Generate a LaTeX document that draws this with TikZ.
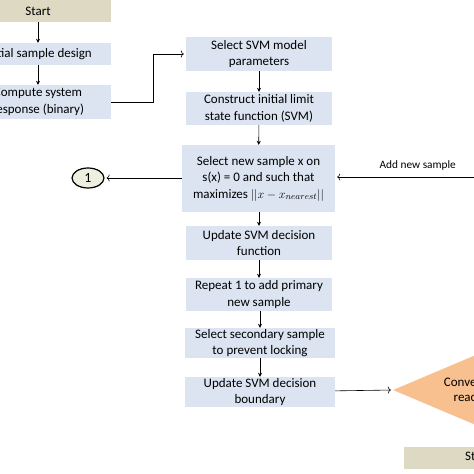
\documentclass[tikz,border=0pt]{standalone}
\usepackage{fontspec}
\setmainfont{Carlito}
\usetikzlibrary{arrows.meta, shapes.geometric}
\definecolor{boxblue}{RGB}{219,228,240}
\definecolor{boxtan}{RGB}{221,217,195}
\definecolor{diaorange}{RGB}{249,192,143}
\definecolor{circfill}{RGB}{238,239,222}

\tikzset{
    stepbox/.style={fill=boxblue, minimum width=146, minimum height=34, inner sep=1, align=center, font=\fontsize{13}{16.5}\selectfont},
    endbox/.style={fill=boxtan, minimum width=146, minimum height=22, inner sep=1, font=\fontsize{13}{16.5}\selectfont},
    decide/.style={diamond, fill=diaorange, aspect=2.36, inner sep=0, minimum width=170, minimum height=72, align=center, font=\fontsize{13}{15}\selectfont},
    connect/.style={ellipse, draw, line width=1.2pt, fill=circfill, minimum width=32, minimum height=20, inner sep=0, font=\fontsize{14}{15}\selectfont},
    down/.style={-{Stealth[length=4pt,width=4pt]}, line width=0.6pt},
    side/.style={-{To[length=3pt,width=7pt]}, line width=0.6pt, shorten >=2pt},
}

\begin{document}
\begin{tikzpicture}[x=1pt,y=1pt,yscale=-1]
    \useasboundingbox (0,0) rectangle (474,474);
    \clip (0,0) rectangle (474,474);

    %Shape: left column
    \node [endbox] (start) at (38,11) {Start};
    \node [stepbox, minimum height=22] (init) at (38,54) {Initial sample design};
    \node [stepbox] (comp) at (38,102) {Compute system\\response (binary)};

    %Shape: middle column
    \node [stepbox] (selsvm) at (259,54) {Select SVM model\\parameters};
    \node [stepbox, minimum height=33] (lsf) at (259,108.5) {Construct initial limit\\state function (SVM)};
    \node [stepbox, minimum width=153, minimum height=67] (selnew) at (258.5,178.5) {Select new sample x on\\s(x) = 0 and such that\\maximizes $||x - x_{nearest}||$};
    \node [stepbox] (updfun) at (259,243) {Update SVM decision\\function};
    \node [stepbox, minimum height=33] (rep) at (259,294.5) {Repeat 1 to add primary\\new sample};
    \node [stepbox, minimum width=150, minimum height=30] (sec) at (260,343) {Select secondary sample\\to prevent locking};
    \node [stepbox, minimum width=150, minimum height=30] (updbnd) at (260,392) {Update SVM decision\\boundary};

    %Shape: right side
    \node [connect] (one) at (88,178) {1};
    \node [decide] (conv) at (478,390) {Convergence\\reached?};
    \node [endbox] (stop) at (477,457.5) {Stop};
    \coordinate (addin) at (480,177);

    % Connectors
    \draw [down] (start) -- (init);
    \draw [down] (init) -- (comp);
    \draw [side] (comp.east) -- ++(42,0) |- (selsvm.west);
    \draw [down] (selsvm) -- (lsf);
    \draw [down] (lsf) -- (selnew);
    \draw [side] (selnew.west |- one) -- (one.east);
    \draw [side] (addin) -- node [above=3pt, pos=0.43, font=\fontsize{11.3}{12}\selectfont] {Add new sample} (selnew.east |- addin);
    \draw [down] (selnew.south -| updfun) -- (updfun);
    \draw [down] (updfun) -- (rep);
    \draw [down] (rep.south -| sec) -- (sec);
    \draw [down] (sec) -- (updbnd);
    \draw [side] (updbnd) -- (conv.west);

\end{tikzpicture}
\end{document}
